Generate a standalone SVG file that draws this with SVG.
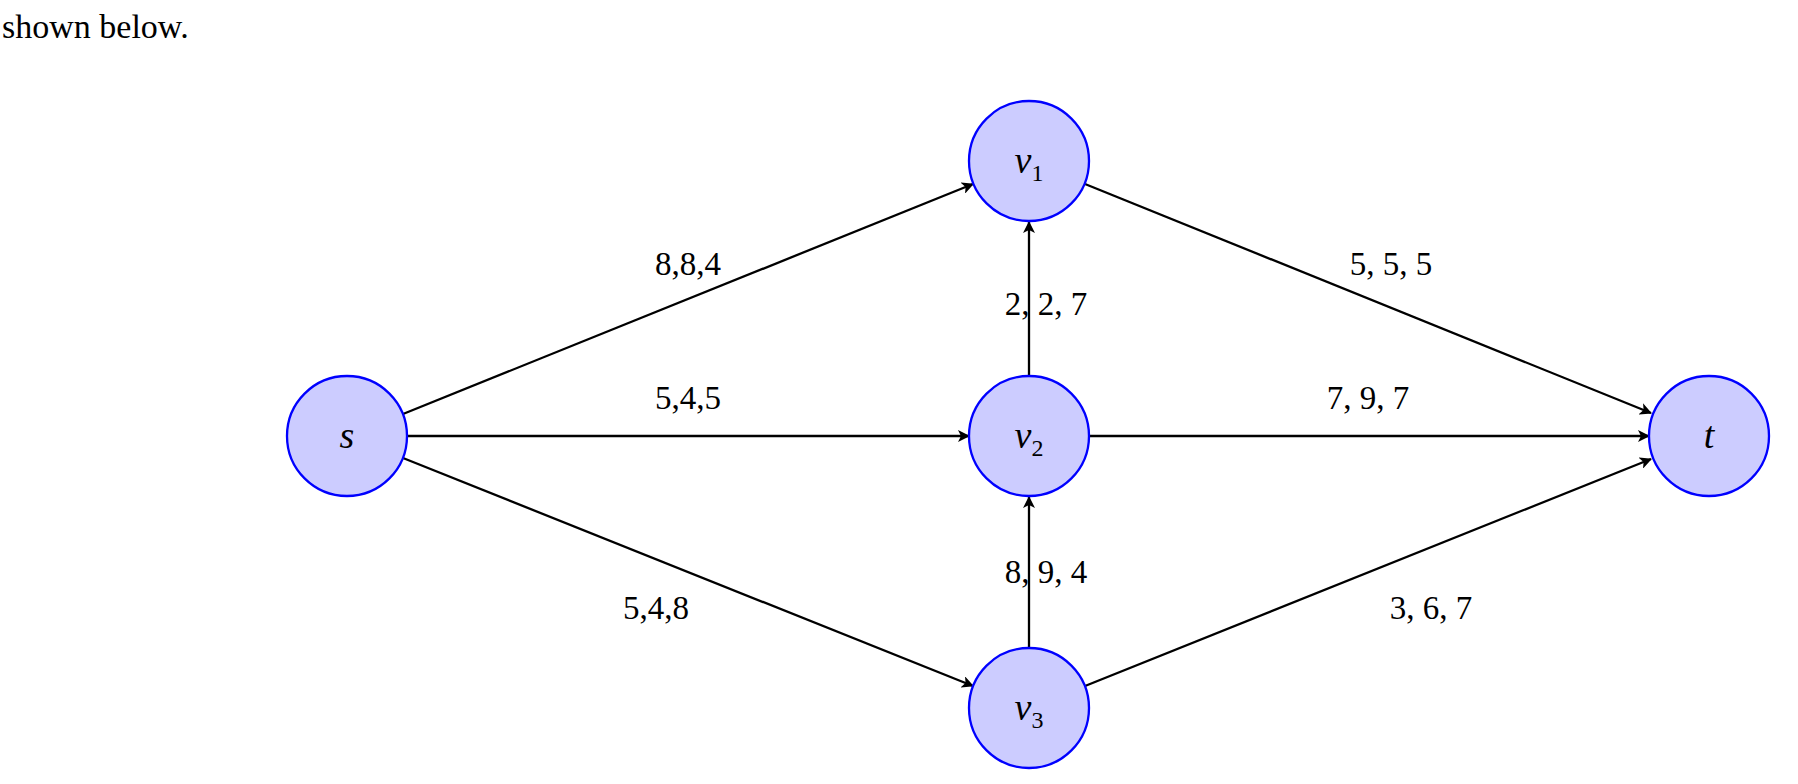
<svg xmlns="http://www.w3.org/2000/svg" width="1798" height="784" viewBox="0 0 1798 784">
<style>
.n{fill:#ccccff;stroke:#0000ff;stroke-width:2.3}
.nl{font-family:"Liberation Serif",serif;font-style:italic;font-size:38px;text-anchor:middle}
.sub{font-size:24px;font-style:normal}
.e{stroke:#000;stroke-width:2.3;fill:none;marker-end:url(#a)}
.el{font-family:"Liberation Serif",serif;font-size:33px;text-anchor:middle}
</style>
<defs><marker id="a" markerWidth="12" markerHeight="12" refX="11" refY="6" orient="auto" markerUnits="userSpaceOnUse"><path d="M0,0 L12,6 L0,12 L3,6 Z" fill="#000"/></marker></defs>
<rect width="1798" height="784" fill="#fff"/>
<text x="2" y="38" font-family="Liberation Serif,serif" font-size="34">shown below.</text>
<g id="edges">
<line class="e" x1="403" y1="414" x2="973" y2="184"/>
<line class="e" x1="407" y1="436" x2="969" y2="436"/>
<line class="e" x1="403" y1="458" x2="973" y2="686"/>
<line class="e" x1="1085" y1="184" x2="1651" y2="413"/>
<line class="e" x1="1089" y1="436" x2="1649" y2="436"/>
<line class="e" x1="1085" y1="686" x2="1651" y2="459"/>
<line class="e" x1="1029" y1="376" x2="1029" y2="222"/>
<line class="e" x1="1029" y1="648" x2="1029" y2="497"/>
<text class="el" x="688" y="275">8,8,4</text>
<text class="el" x="688" y="409">5,4,5</text>
<text class="el" x="656" y="619">5,4,8</text>
<text class="el" x="1391" y="275">5, 5, 5</text>
<text class="el" x="1368" y="409">7, 9, 7</text>
<text class="el" x="1431" y="619">3, 6, 7</text>
<text class="el" x="1046" y="315" text-anchor="start">2, 2, 7</text>
<text class="el" x="1046" y="583" text-anchor="start">8, 9, 4</text>
</g>
<g id="s"><circle class="n" cx="347" cy="436" r="60"/><text class="nl" x="347" y="448">s</text></g>
<g id="v1"><circle class="n" cx="1029" cy="161" r="60"/><text class="nl" x="1029" y="173">v<tspan class="sub" dy="8">1</tspan></text></g>
<g id="v2"><circle class="n" cx="1029" cy="436" r="60"/><text class="nl" x="1029" y="448">v<tspan class="sub" dy="8">2</tspan></text></g>
<g id="v3"><circle class="n" cx="1029" cy="708" r="60"/><text class="nl" x="1029" y="720">v<tspan class="sub" dy="8">3</tspan></text></g>
<g id="t"><circle class="n" cx="1709" cy="436" r="60"/><text class="nl" x="1709" y="448">t</text></g>
</svg>
